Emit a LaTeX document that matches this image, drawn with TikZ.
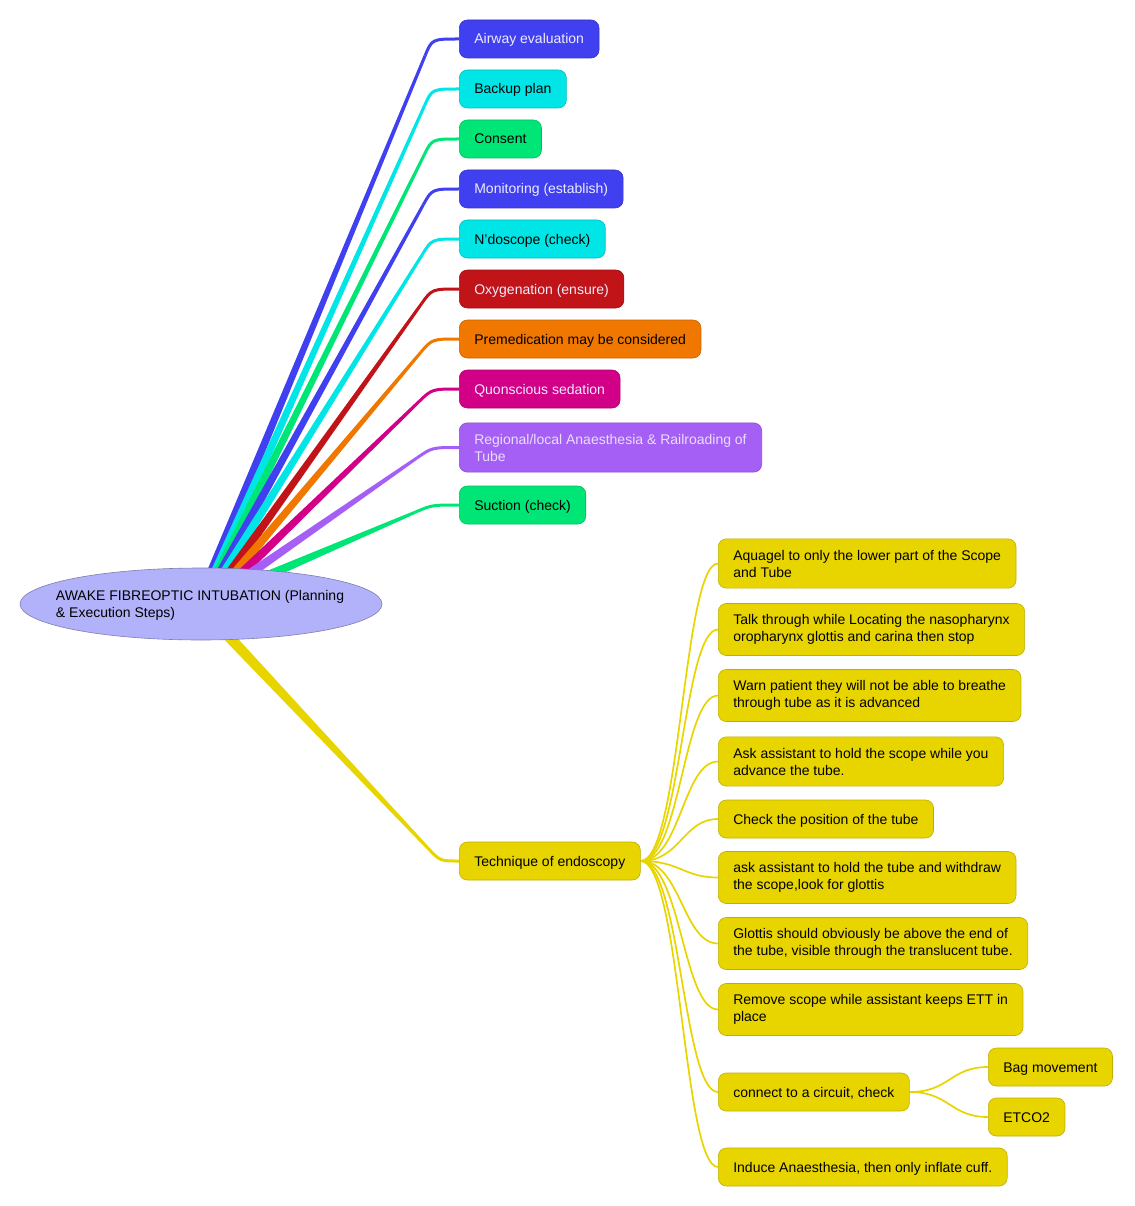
\documentclass[tikz,border=0pt]{standalone}
\usepackage{fontspec}
\setmainfont{Liberation Sans}
\usetikzlibrary{calc,shapes.geometric,backgrounds}
\definecolor{cblue}{RGB}{64,64,240}
\definecolor{ccyan}{RGB}{0,230,230}
\definecolor{cgreen}{RGB}{0,230,118}
\definecolor{cred}{RGB}{192,20,24}
\definecolor{corange}{RGB}{240,120,0}
\definecolor{cmag}{RGB}{210,0,135}
\definecolor{cpurp}{RGB}{165,95,245}
\definecolor{cyell}{RGB}{232,213,0}
\definecolor{croot}{RGB}{178,178,250}
\definecolor{ltext}{RGB}{236,236,255}
\definecolor{ptext}{RGB}{232,222,250}
\tikzset{
  mnode/.style={rounded corners=8pt, draw=#1!82!black, fill=#1, anchor=west,
    inner xsep=15pt, inner ysep=12pt, minimum height=38pt, align=left,
    font=\fontsize{14}{17}\selectfont, line width=0.6pt},
  oneline/.style={text height=11.5pt, text depth=1.5pt},
  twoline/.style={inner ysep=11pt, yshift=-0.5pt},
  ychild/.style={draw=cyell, line width=1.7pt},
}
\newcommand\mmbranch[5]{%
  \coordinate (bM) at (#2);
  \coordinate (bC) at ($(#3.west)+(#4,0)$);
  \coordinate (bR) at ($(bM)!-15pt!(bC)$);
  \coordinate (bP) at ($(bC)!18pt!(bM)$);
  \fill[#1] ($(bR)!#5!90:(bP)$) -- ($(bR)!#5!-90:(bP)$) -- ($(bP)!1.5pt!90:(bR)$) -- ($(bP)!1.5pt!-90:(bR)$) -- cycle;
  \draw[#1, line width=3pt] (bP) .. controls (bC) .. (#3.west);
}
\begin{document}
\begin{tikzpicture}[x=1pt,y=-1pt]
\useasboundingbox (0,0) rectangle (1134,1206);
% main branch nodes
\node[mnode=cblue, oneline, text=ltext] (n1) at (459,39) {Airway evaluation};
\node[mnode=ccyan, oneline] (n2) at (459,89) {Backup plan};
\node[mnode=cgreen, oneline] (n3) at (459,139) {Consent};
\node[mnode=cblue, oneline, text=ltext] (n4) at (459,189) {Monitoring (establish)};
\node[mnode=ccyan, oneline] (n5) at (459,239) {N'doscope (check)};
\node[mnode=cred, oneline, text=ltext] (n6) at (459,289) {Oxygenation (ensure)};
\node[mnode=corange, oneline] (n7) at (459,339) {Premedication may be considered};
\node[mnode=cmag, oneline, text=ltext] (n8) at (459,389) {Quonscious sedation};
\node[mnode=cpurp, twoline, text=ptext] (n9) at (459,447) {Regional/local Anaesthesia \& Railroading of\\Tube};
\node[mnode=cgreen, oneline] (n10) at (459,505) {Suction (check)};
\node[mnode=cyell, oneline] (tech) at (459,861) {Technique of endoscopy};
% technique children
\node[mnode=cyell, twoline] (y1) at (718,563) {Aquagel to only the lower part of the Scope\\and Tube};
\node[mnode=cyell, twoline] (y2) at (718,629) {Talk through while Locating the nasopharynx\\oropharynx glottis and carina then stop};
\node[mnode=cyell, twoline] (y3) at (718,695) {Warn patient they will not be able to breathe\\through tube as it is advanced};
\node[mnode=cyell, twoline] (y4) at (718,761) {Ask assistant to hold the scope while you\\advance the tube.};
\node[mnode=cyell, oneline] (y5) at (718,819) {Check the position of the tube};
\node[mnode=cyell, twoline] (y6) at (718,877) {ask assistant to hold the tube and withdraw\\the scope,look for glottis};
\node[mnode=cyell, twoline] (y7) at (718,943) {Glottis should obviously be above the end of\\the tube, visible through the translucent tube.};
\node[mnode=cyell, twoline] (y8) at (718,1009) {Remove scope while assistant keeps ETT in\\place};
\node[mnode=cyell, oneline] (y9) at (718,1092) {connect to a circuit, check};
\node[mnode=cyell, oneline] (y10) at (718,1167) {Induce Anaesthesia, then only inflate cuff.};
\node[mnode=cyell, oneline] (bag) at (988,1067) {Bag movement};
\node[mnode=cyell, oneline] (etco) at (988,1117) {ETCO2};
\begin{pgfonlayer}{background}
\mmbranch{cblue}{213,568}{n1}{-27}{4.5pt}
\mmbranch{ccyan}{217,568}{n2}{-27}{4.5pt}
\mmbranch{cgreen}{220,568}{n3}{-27}{4.5pt}
\mmbranch{cblue}{223,568}{n4}{-27}{4.5pt}
\mmbranch{ccyan}{227,568}{n5}{-27}{4.5pt}
\mmbranch{cred}{233,568}{n6}{-27}{4.5pt}
\mmbranch{corange}{239,568}{n7}{-27}{4.5pt}
\mmbranch{cmag}{247,568}{n8}{-27}{4.5pt}
\mmbranch{cpurp}{258,568}{n9}{-27}{4.5pt}
\mmbranch{cgreen}{278,571}{n10}{-27}{4.5pt}
\mmbranch{cyell}{232,640}{tech}{-19}{5.5pt}
\foreach \c in {y1,y2,y3,y4,y5,y6,y7,y8,y9,y10}
  \draw[ychild] (tech.east) .. controls +(40,0) and +(-35,0) .. (\c.west);
\draw[ychild] (y9.east) .. controls +(40,0) and +(-38,0) .. (bag.west);
\draw[ychild] (y9.east) .. controls +(40,0) and +(-38,0) .. (etco.west);
\end{pgfonlayer}
% root
\node[ellipse, draw=croot!70!black, fill=croot, line width=0.6pt, minimum width=362pt, minimum height=72pt, inner sep=0pt] (root) at (201,604) {};
\node[align=left, font=\fontsize{14}{17}\selectfont, inner sep=0pt] (roottext) at ([xshift=-1pt,yshift=-1.5pt]root.center) {AWAKE FIBREOPTIC INTUBATION (Planning\\\& Execution Steps)};
\end{tikzpicture}
\end{document}
